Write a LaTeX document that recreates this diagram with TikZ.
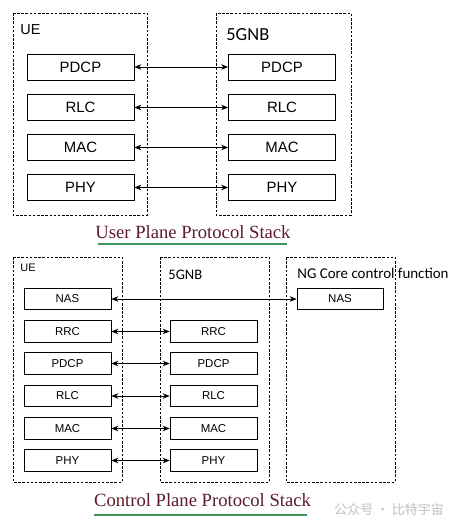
\documentclass[tikz,border=0pt]{standalone}
\usepackage{fontspec}
\setmainfont{Liberation Serif}
\setsansfont{Liberation Sans}
\newfontfamily\calfont{Carlito}
\newfontfamily\cjk{Noto Sans CJK SC}
\usetikzlibrary{arrows.meta}
\definecolor{titlered}{RGB}{92,28,42}
\definecolor{linegreen}{RGB}{60,150,90}
\tikzset{every picture/.style={line width=0.75pt}}
\tikzset{
	dashbox/.style={draw, dash pattern=on 2.6pt off 1.6pt, line width=0.6pt},
	layerbig/.style={draw, rectangle, minimum width=107bp, minimum height=26bp, inner sep=0pt, font=\sffamily\fontsize{15}{15}\selectfont},
	layersmall/.style={draw, rectangle, minimum width=87bp, minimum height=21.5bp, inner sep=0pt, font=\sffamily\fontsize{11.5}{11.5}\selectfont},
	peer/.style={{Stealth[length=7pt,width=5.5pt]}-{Stealth[length=7pt,width=5.5pt]}, line width=0.6pt},
	stacktitle/.style={font=\fontsize{18.7}{18.7}\selectfont, text=titlered, inner sep=0pt},
}

\begin{document}
\begin{tikzpicture}[x=1bp, y=-1bp]
		\useasboundingbox (0,0) rectangle (456,529);
		% user plane
		\draw[dashbox] (13,13) rectangle (147,215);
		\draw[dashbox] (216,13) rectangle (351,215);
		\node[anchor=west, inner sep=0pt, font=\sffamily\fontsize{14.5}{14.5}\selectfont] (upue) at (20,30) {UE};
		\node[anchor=west, inner sep=0pt, font=\calfont\fontsize{18.5}{18.5}\selectfont] (upgnb) at (226,35) {5GNB};
		\node[layerbig] (uepdcp) at (80.5,67) {PDCP};
		\node[layerbig] (uerlc) at (80.5,107.5) {RLC};
		\node[layerbig] (uemac) at (80.5,147.5) {MAC};
		\node[layerbig] (uephy) at (80.5,187.5) {PHY};
		\node[layerbig] (gnbpdcp) at (282,67) {PDCP};
		\node[layerbig] (gnbrlc) at (282,107.5) {RLC};
		\node[layerbig] (gnbmac) at (282,147.5) {MAC};
		\node[layerbig] (gnbphy) at (282,187.5) {PHY};
		\draw[peer] (uepdcp) -- (gnbpdcp);
		\draw[peer] (uerlc) -- (gnbrlc);
		\draw[peer] (uemac) -- (gnbmac);
		\draw[peer] (uephy) -- (gnbphy);
		\node[stacktitle] (uptitle) at (193,232) {User Plane Protocol Stack};
		\draw[linegreen, line width=2.2pt] (98,244) -- (287,244);
		% control plane
		\draw[dashbox] (13,257) rectangle (122,482);
		\draw[dashbox] (160,257) rectangle (269,482);
		\draw[dashbox] (286,257) rectangle (395,482);
		\node[anchor=west, inner sep=0pt, font=\sffamily\fontsize{11}{11}\selectfont] (cpue) at (20,268) {UE};
		\node[anchor=west, inner sep=0pt, font=\calfont\fontsize{14.6}{14.6}\selectfont] (cpgnb) at (168,275) {5GNB};
		\node[anchor=west, inner sep=0pt, font=\calfont\fontsize{15}{15}\selectfont] (cpcore) at (297,273) {NG Core control function};
		\node[layersmall] (uenas) at (67.5,299) {NAS};
		\node[layersmall] (uerrc) at (67.5,331.5) {RRC};
		\node[layersmall] (cuepdcp) at (67.5,363.5) {PDCP};
		\node[layersmall] (cuerlc) at (67.5,396) {RLC};
		\node[layersmall] (cuemac) at (67.5,428.5) {MAC};
		\node[layersmall] (cuephy) at (67.5,460.5) {PHY};
		\node[layersmall] (gnbrrc) at (213.5,331.5) {RRC};
		\node[layersmall] (cgnbpdcp) at (213.5,363.5) {PDCP};
		\node[layersmall] (cgnbrlc) at (213.5,396) {RLC};
		\node[layersmall] (cgnbmac) at (213.5,428.5) {MAC};
		\node[layersmall] (cgnbphy) at (213.5,460.5) {PHY};
		\node[layersmall, minimum width=86bp] (corenas) at (340,299) {NAS};
		\draw[peer] (uenas) -- (corenas);
		\draw[peer] (uerrc) -- (gnbrrc);
		\draw[peer] (cuepdcp) -- (cgnbpdcp);
		\draw[peer] (cuerlc) -- (cgnbrlc);
		\draw[peer] (cuemac) -- (cgnbmac);
		\draw[peer] (cuephy) -- (cgnbphy);
		\node[stacktitle] (cptitle) at (202.5,500) {Control Plane Protocol Stack};
		\draw[linegreen, line width=2.2pt] (94,515) -- (307,515);
		\node[anchor=west, inner sep=0pt, text=black!25, font=\cjk\fontsize{13}{13}\selectfont] (mark) at (334,510) {公众号 · 比特宇宙};
	\end{tikzpicture}
\end{document}
